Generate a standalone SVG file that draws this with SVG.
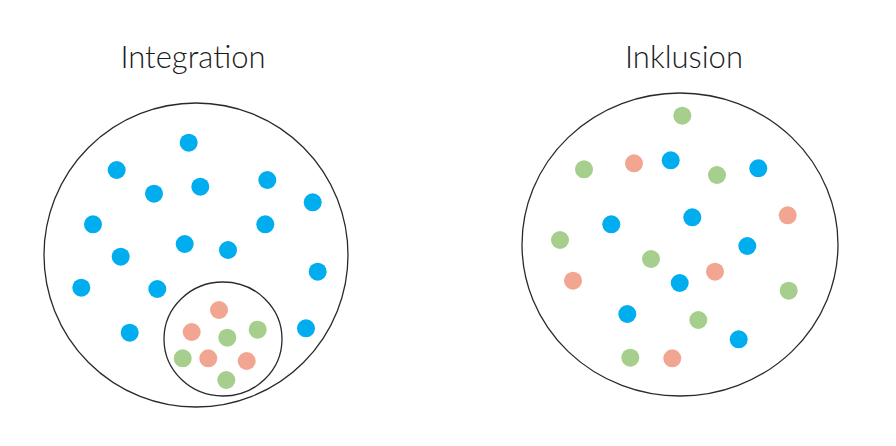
<svg xmlns="http://www.w3.org/2000/svg" width="896" height="446" viewBox="0 0 896 446">
<style>
.title{font-family:Lato,"Open Sans","Liberation Sans",sans-serif;font-weight:300;font-size:31px;fill:#1a1a1a;text-anchor:middle}
.ring{fill:none;stroke:#2a2a2a;stroke-width:1.3}
.b{fill:#00AEEF}
.r{fill:#F2A692}
.g{fill:#A6CE8C}
</style>
<rect width="896" height="446" fill="#ffffff"/>
<g id="integration">
<text class="title" x="193" y="68">Integration</text>
<circle class="ring" cx="196" cy="255" r="152"/>
<g id="integration-dots">
<circle class="b" cx="188.7" cy="142.7" r="9"/>
<circle class="b" cx="116.7" cy="170" r="9"/>
<circle class="b" cx="154" cy="193.7" r="9"/>
<circle class="b" cx="200.3" cy="186.7" r="9"/>
<circle class="b" cx="267.3" cy="180" r="9"/>
<circle class="b" cx="312.7" cy="202.3" r="9"/>
<circle class="b" cx="93" cy="224.3" r="9"/>
<circle class="b" cx="265.3" cy="224.3" r="9"/>
<circle class="b" cx="184.7" cy="244" r="9"/>
<circle class="b" cx="228" cy="250" r="9"/>
<circle class="b" cx="120.7" cy="256.7" r="9"/>
<circle class="b" cx="317.7" cy="271.7" r="9"/>
<circle class="b" cx="81.3" cy="287.7" r="9"/>
<circle class="b" cx="157.3" cy="289" r="9"/>
<circle class="b" cx="129.7" cy="332.7" r="9"/>
<circle class="b" cx="306" cy="328.3" r="9"/>
</g>
<g id="integration-group">
<ellipse class="ring" cx="223" cy="339" rx="59" ry="57"/>
<circle class="r" cx="219" cy="310" r="9"/>
<circle class="r" cx="191.7" cy="332" r="9"/>
<circle class="g" cx="227.3" cy="337.7" r="9"/>
<circle class="g" cx="257.7" cy="329.7" r="9"/>
<circle class="g" cx="182.7" cy="358.3" r="9"/>
<circle class="r" cx="208.3" cy="358.3" r="9"/>
<circle class="r" cx="246.7" cy="361" r="9"/>
<circle class="g" cx="226.3" cy="380" r="9"/>
</g>
</g>
<g id="inklusion">
<text class="title" x="684" y="68">Inklusion</text>
<ellipse class="ring" cx="680" cy="244.5" rx="158" ry="151.5"/>
<g id="inklusion-dots">
<circle class="g" cx="682.3" cy="115.7" r="9"/>
<circle class="g" cx="584" cy="169.3" r="9"/>
<circle class="r" cx="634" cy="163.3" r="9"/>
<circle class="b" cx="670.7" cy="160.3" r="9"/>
<circle class="g" cx="717" cy="175" r="9"/>
<circle class="b" cx="758.3" cy="168.3" r="9"/>
<circle class="b" cx="611.3" cy="224.3" r="9"/>
<circle class="b" cx="692.3" cy="217.3" r="9"/>
<circle class="r" cx="787.7" cy="215.3" r="9"/>
<circle class="g" cx="560" cy="240" r="9"/>
<circle class="b" cx="747.3" cy="246" r="9"/>
<circle class="g" cx="651" cy="259" r="9"/>
<circle class="r" cx="715" cy="271.7" r="9"/>
<circle class="r" cx="573" cy="280.7" r="9"/>
<circle class="b" cx="679.7" cy="283" r="9"/>
<circle class="g" cx="788.7" cy="290.7" r="9"/>
<circle class="b" cx="627.3" cy="314" r="9"/>
<circle class="g" cx="698.3" cy="320" r="9"/>
<circle class="b" cx="738.7" cy="339.3" r="9"/>
<circle class="g" cx="630.3" cy="357.7" r="9"/>
<circle class="r" cx="672.3" cy="358.3" r="9"/>
</g>
</g>
</svg>
